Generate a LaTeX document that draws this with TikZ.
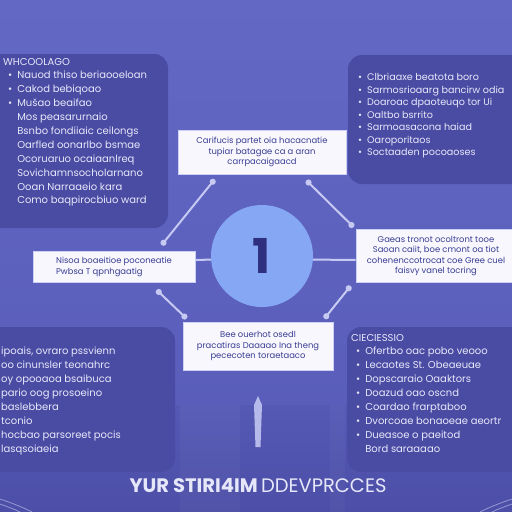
\documentclass[tikz,border=0pt]{standalone}
\usepackage{fontspec}
\setmainfont{Poppins}
\usetikzlibrary{arrows.meta}
\definecolor{bgTop}{HTML}{6368C5}
\definecolor{bgMid}{HTML}{5A5EBA}
\definecolor{bgLow}{HTML}{4C4EA7}
\definecolor{panelFill}{HTML}{4A4BA3}
\definecolor{noteFill}{HTML}{F7F7FD}
\definecolor{noteEdge}{HTML}{CDD0F2}
\definecolor{noteInk}{HTML}{3A3D93}
\definecolor{hubFill}{HTML}{86A8F4}
\definecolor{hubInk}{HTML}{2E2F7E}
\definecolor{linkC}{HTML}{C6CAF3}
\definecolor{lightInk}{HTML}{E6E8FA}
\tikzset{
  panelBox/.style={fill=panelFill, rounded corners=14pt},
  panelText/.style={text=lightInk, font=\fontsize{10}{13.9}\selectfont, align=left, inner sep=0pt, anchor=north west},
  panelHead/.style={text=lightInk, font=\fontsize{10}{12}\selectfont, inner sep=0pt, anchor=west},
  noteBox/.style={draw=noteEdge, fill=noteFill, line width=0.8pt, inner sep=0pt},
  noteText/.style={text=noteInk, font=\fontsize{8.4}{10.5}\selectfont},
  hubCircle/.style={circle, fill=hubFill, minimum size=102pt, inner sep=0pt},
  linkLine/.style={draw=linkC, line width=2pt, {Circle[length=6pt]}-{Circle[length=6pt]}},
  linkPlain/.style={draw=linkC, line width=2pt},
  titleText/.style={text=lightInk, font=\fontsize{19.5}{24}\selectfont, inner sep=0pt}
}

\begin{document}
\begin{tikzpicture}[x=1pt, y=-1pt]
  \useasboundingbox (0,0) rectangle (512,512);

  % background
  \shade[top color=bgTop, bottom color=bgMid] (0,0) rectangle (512,405);
  \shade[top color=bgMid!70!bgLow, bottom color=bgLow] (0,405) rectangle (512,512);
  \fill[white, opacity=0.03] (180,405) rectangle (240,512);
  \fill[white, opacity=0.03] (330,405) rectangle (345,512);
  \draw[linkC, opacity=0.6, line width=0.8pt] (0,499) .. controls (12,503) and (22,507) .. (32,512);
  \draw[linkC, opacity=0.6, line width=0.8pt] (0,504) .. controls (8,507) and (14,509) .. (20,512);
  \draw[linkC, opacity=0.6, line width=0.8pt] (512,499) .. controls (500,503) and (490,507) .. (480,512);
  \draw[linkC, opacity=0.6, line width=0.8pt] (512,504) .. controls (504,507) and (498,509) .. (492,512);

  % panels
  \fill[panelBox] (-14,54) rectangle (168,228);
  \fill[panelBox] (348,55) rectangle (526,184);
  \fill[panelBox] (-14,327) rectangle (175,472);
  \fill[panelBox] (347,327) rectangle (526,472);

  \node[panelHead] (tlHead) at (3,62) {WHCOOLAGO};
  \node[panelText] (tlList) at (8,71) {%
    •\hspace{5pt}Nauod thiso beriaooeloan\\
    •\hspace{5pt}Cakod bebiqoao\\
    •\hspace{5pt}Mušao beaifao\\
    \phantom{•}\hspace{5pt}Mos peasarurnaio\\
    \phantom{•}\hspace{5pt}Bsnbo fondiiaic ceilongs\\
    \phantom{•}\hspace{5pt}Oarfled oonarlbo bsmae\\
    \phantom{•}\hspace{5pt}Ocoruaruo ocaiaanlreq\\
    \phantom{•}\hspace{5pt}Sovichamnsocholarnano\\
    \phantom{•}\hspace{5pt}Ooan Narraaeio kara\\
    \phantom{•}\hspace{5pt}Como baqpirocbiuo ward};

  \node[panelText, font=\fontsize{9.6}{12.5}\selectfont] (trList) at (358,73) {%
    •\hspace{5pt}Clbriaaxe beatota boro\\
    •\hspace{5pt}Sarmosrioaarg bancirw odia\\
    •\hspace{5pt}Doaroac dpaoteuqo tor Ui\\
    •\hspace{5pt}Oaltbo bsrrito\\
    •\hspace{5pt}Sarmoasacona haiad\\
    •\hspace{5pt}Oaroporitaos\\
    •\hspace{5pt}Soctaaden pocoaoses};

  \node[panelText] (blList) at (1,347) {%
    ipoais, ovraro pssvienn\\
    oo cinunsler teonahrc\\
    oy opooaoa bsaibuca\\
    pario oog prosoeino\\
    baslebbera\\
    tconio\\
    hocbao parsoreet pocis\\
    lasqsoiaeia};

  \node[panelHead] (brHead) at (351,338) {CIECIESSIO};
  \node[panelText] (brList) at (356,347) {%
    •\hspace{5pt}Ofertbo oac pobo veooo\\
    •\hspace{5pt}Lecaotes St. Obeaeuae\\
    •\hspace{5pt}Dopscaraio Oaaktors\\
    •\hspace{5pt}Doazud oao oscnd\\
    •\hspace{5pt}Coardao frarptaboo\\
    •\hspace{5pt}Dvorcoae bonaoeae aeortr\\
    •\hspace{5pt}Dueasoe o paeitod\\
    \phantom{•}\hspace{5pt}Bord saraaaao};

  % note boxes and hub
  \node[noteBox, noteText, minimum width=168pt, minimum height=44pt, align=center] (topBox) at (262,152)
    {Carifucis partet oia hacacnatie\\ tupiar batagae ca a aran\\ carrpacaigaacd};
  \node[noteBox, noteText, minimum width=162pt, minimum height=31pt, align=left] (leftBox) at (114,267)
    {Nisoa boaeitioe poconeatie\\ Pwbsa T qpnhgaatig};
  \node[noteBox, noteText, minimum width=160pt, minimum height=53pt, align=center] (rightBox) at (436,256)
    {Gaeas tronot ocoltront tooe\\ Saoan caiit, boe cmont oa tiot\\ cohenenccotrocat coe Gree cuel\\ faisvy vanel tocring};
  \node[noteBox, noteText, minimum width=150pt, minimum height=48pt, align=center] (bottomBox) at (258,346)
    {Bee ouerhot osedl\\ pracatiras Daaaao Ina theng\\ pececoten toraetaaco};

  \node[hubCircle, text=hubInk, font=\fontsize{48}{48}\selectfont\bfseries] (hub) at (262,256) {1};

  % connectors
  \draw[linkLine] ([xshift=37pt,yshift=-5pt]topBox.south west) -- ([xshift=129pt,yshift=6pt]leftBox.north west);
  \draw[linkLine] ([xshift=-40pt,yshift=-6pt]topBox.south east) -- ([xshift=-2pt,yshift=2pt]rightBox.north west);
  \draw[linkLine] ([xshift=124pt,yshift=-7pt]leftBox.south west) -- ([xshift=4pt,yshift=3pt]bottomBox.north west);
  \draw[linkLine] ([xshift=-5pt,yshift=-3pt]rightBox.south west) -- ([xshift=-9pt,yshift=3pt]bottomBox.north east);
  \draw[linkPlain] ([yshift=7pt]leftBox.east) -- (hub.184);
  \draw[linkPlain] (hub.-4) -- ([yshift=-4pt]rightBox.west);

  % arrow
  \fill[linkC!85!bgMid] (255.5,447) -- (260.5,447) -- (262,405) -- (258,396) -- (254,405) -- cycle;

  % title
  \node[titleText] (title) at (258,486) {{\bfseries YUR STIRI4IM}\,DDEVPRCCES};
\end{tikzpicture}
\end{document}
